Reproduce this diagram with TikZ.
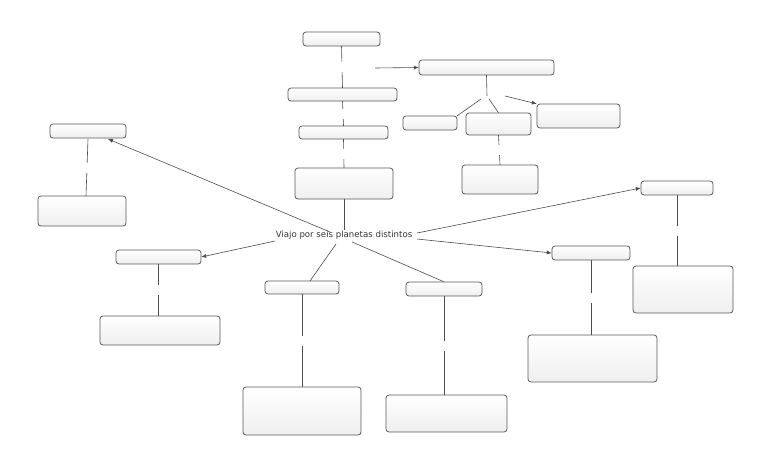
\documentclass[tikz,border=0pt]{standalone}
\usepackage{fontspec}
\newfontfamily\labfont{DejaVu Sans}
\usetikzlibrary{arrows.meta}
\begin{document}
\begin{tikzpicture}[x=1pt,y=-1pt,
  box/.style={draw=black!65,line width=0.8pt,rounded corners=3pt,top color=white,bottom color=blue!6!gray!12},
  con/.style={draw=black!70,line width=0.6pt},
  arr/.style={con,-{Latex[length=5pt,width=4pt]}},
  gap/.style={fill=white,inner sep=0pt,minimum size=10pt}]
\useasboundingbox (0,0) rectangle (768,466);
\newcommand{\bx}[5]{\path[box] (#2,#3) rectangle (#4,#5); \path (#2,#3) rectangle (#4,#5) node[pos=0.5,inner sep=0pt,minimum width={#4-#2},minimum height={#5-#3}] (#1b) {};}
\bx{A}{303}{32}{380}{46}
\bx{B}{288}{88}{397}{101}
\bx{C}{299}{126}{388}{139}
\bx{D}{295}{168}{393}{199}
\bx{E}{419}{60}{554}{75}
\bx{F}{403}{116}{457}{130}
\bx{G}{466}{113}{531}{135}
\bx{H}{537}{104}{620}{128}
\bx{I}{462}{165}{538}{194}
\bx{L1}{50}{124}{126}{138}
\bx{L2}{38}{196}{126}{226}
\bx{M1}{116}{250}{201}{264}
\bx{M2}{100}{316}{220}{345}
\bx{N1}{265}{281}{339}{294}
\bx{N2}{243}{387}{361}{435}
\bx{O1}{406}{282}{482}{296}
\bx{O2}{386}{395}{507}{432}
\bx{P1}{552}{246}{630}{260}
\bx{P2}{528}{335}{657}{382}
\bx{Q1}{641}{181}{713}{195}
\bx{Q2}{633}{266}{733}{313}
\node[font=\labfont\fontsize{8.6}{9}\selectfont,inner sep=1pt,text=black!80] (T) at (344,235) {Viajo por seis planetas distintos};
\coordinate (s) at (375,68);
\coordinate (J) at (487,96);
\coordinate (n1t) at (310,281);
\draw[con] (Ab.south) -- node[gap]{} (Bb.north);
\draw[con] (Bb.south) -- node[gap]{} (Cb.north);
\draw[con] (Cb.south) -- node[gap]{} (Db.north);
\draw[con] (Db.south) -- (T.north);
\draw[arr] (s) -- (Eb.west);
\draw[con] (Eb.south) -- (J);
\draw[con] (J) ++(-6,3) -- (Fb.north east);
\draw[con] (J) ++(2,3) -- (Gb.north);
\draw[arr] (J) ++(18,0) -- (Hb.north west);
\draw[con] (Gb.south) -- node[gap]{} (Ib.north);
\coordinate (c1) at (330,232);
\coordinate (c2) at (275,241);
\coordinate (c3) at (336,244);
\coordinate (c4) at (352,242);
\coordinate (c5) at (417,233);
\coordinate (c6) at (417,239);
\draw[arr] (c1) -- (108,139);
\draw[arr] (c2) -- (M1b.east);
\draw[arr] (c5) -- (Q1b.west);
\draw[arr] (c6) -- (P1b.west);
\draw[con] (c3) -- (n1t);
\draw[con] (c4) -- (O1b.north);
\draw[con] (88,139) -- node[gap]{} (86,196);
\draw[con] (M1b.south) -- node[gap]{} (M2b.north -| M1b.south);
\draw[con] (N1b.south) -- node[gap]{} (N2b.north -| N1b.south);
\draw[con] (O1b.south) -- node[gap]{} (O2b.north -| O1b.south);
\draw[con] (P1b.south) -- node[gap]{} (P2b.north -| P1b.south);
\draw[con] (Q1b.south) -- node[gap]{} (Q2b.north -| Q1b.south);
\end{tikzpicture}
\end{document}
